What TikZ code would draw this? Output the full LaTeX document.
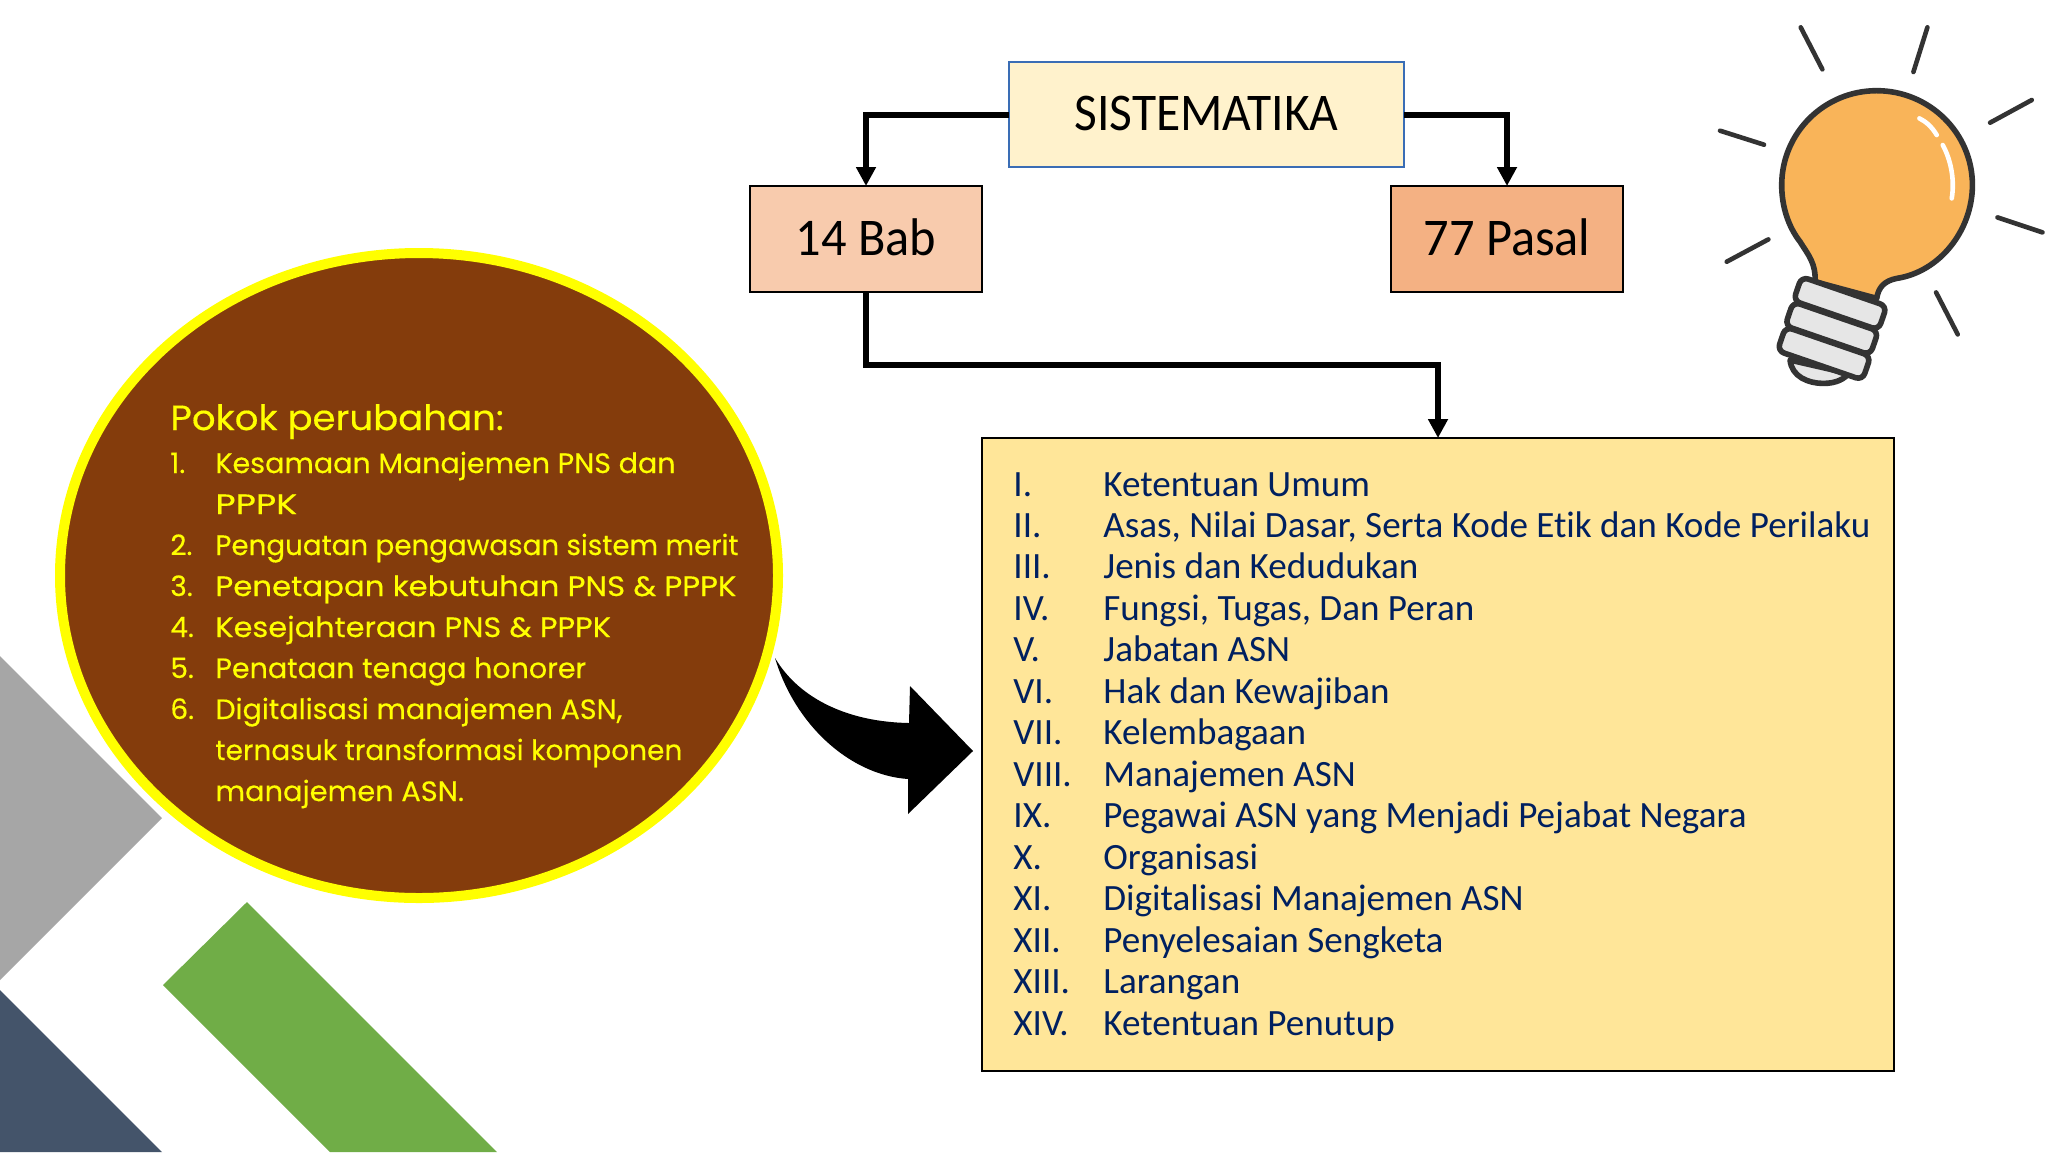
\documentclass[tikz,border=0pt]{standalone}
\usepackage{fontspec}
\usepackage{graphicx}
\usetikzlibrary{arrows.meta,shapes.geometric}
\setmainfont[Ligatures=NoCommon]{Carlito}
\newfontfamily\popfont[FakeBold=0.35]{Poppins}
\newfontfamily\labelfont[FakeStretch=0.95,Ligatures=NoCommon]{Carlito}
\newfontfamily\titlefont[FakeStretch=0.935,Ligatures=NoCommon]{Carlito}
\definecolor{navytext}{HTML}{002060}
\definecolor{brownfill}{HTML}{843C0C}
\definecolor{pureyellow}{HTML}{FFFF00}
\definecolor{bulbfill}{HTML}{F9B459}
\definecolor{bulbline}{HTML}{333333}
\definecolor{capfill}{HTML}{E6E6E6}
\tikzset{
  toplabel/.style={draw=black,line width=0.6pt,inner sep=0pt,outer sep=0pt,text=black,text height=16pt,text depth=0pt,font=\labelfont\fontsize{26.5}{30}\selectfont},
  conn/.style={draw=black,line width=3pt,-{Triangle[length=9.5pt,width=9.5pt]}},
  listnum/.style={anchor=base west,inner sep=0pt,text=navytext,font=\fontsize{18.55}{20}\selectfont},
  poktext/.style={anchor=base west,inner sep=0pt,text=pureyellow,font=\popfont\fontsize{14}{16}\selectfont},
  ray/.style={draw=bulbline,line width=2.3pt,line cap=round},
  bulbstroke/.style={draw=bulbline,line width=2.8pt,line join=round}
}
\begin{document}
\begin{tikzpicture}[x=0.5pt,y=-0.5pt]
\useasboundingbox (0,0) rectangle (2048,1152);
\fill[white] (0,0) rectangle (2048,1152);
% corner shapes
\fill[fill=black!35] (0,656) -- (162,818) -- (0,980) -- cycle;
\fill[fill={rgb,255:red,68;green,84;blue,106}] (0,990) -- (162,1152) -- (0,1152) -- cycle;
\fill[fill={rgb,255:red,112;green,173;blue,71}] (247,902) -- (497,1152) -- (330,1152) -- (163,985) -- cycle;
% ellipse
\node[ellipse,draw=pureyellow,fill=brownfill,line width=5pt,minimum width=359pt,minimum height=322.5pt,inner sep=0pt,outer sep=0pt] (pokok) at (419,575.5) {};
\node[poktext,font=\popfont\fontsize{17.5}{20}\selectfont] (ptitle) at (170,430) {\scalebox{1.06}[1]{Pokok perubahan:}};
\foreach \nm/\yy/\a/\sx/\b in {p1/473/1./1.02/Kesamaan Manajemen PNS dan,p1b/514//1.25/PPPK,p2/555/2./0.99/Penguatan pengawasan sistem merit,p3/596/3./1.10/Penetapan kebutuhan PNS \& PPPK,p4/637/4./1.085/Kesejahteraan PNS \& PPPK,p5/678/5./1.02/Penataan tenaga honorer,p6/719/6./1.02/{Digitalisasi manajemen ASN,},p6b/760//1.0/ternasuk transformasi komponen,p6c/801//1.03/manajemen ASN.}{
  \node[poktext] (\nm n) at (170,\yy) {\a};
  \node[poktext] (\nm) at (215,\yy) {\scalebox{\sx}[1]{\b}};
}
% curved arrow
\fill[black] (775,658) .. controls (800,700) and (850,722) .. (909,723) -- (910,686) -- (973,751) -- (908,814) -- (908,779) .. controls (850,775) and (795,725) .. (775,658) -- cycle;
% boxes
\node[toplabel,font=\titlefont\fontsize{26.5}{30}\selectfont,draw={rgb,255:red,58;green,109;blue,181},fill={rgb,255:red,255;green,242;blue,204},minimum width=197.5pt,minimum height=52.5pt] (sys) at (1206.5,114.5) {SISTEMATIKA};
\node[toplabel,fill={rgb,255:red,248;green,203;blue,173},minimum width=116pt,minimum height=53pt] (bab) at (866,239) {14 Bab};
\node[toplabel,fill={rgb,255:red,244;green,177;blue,131},minimum width=116pt,minimum height=53pt] (pasal) at (1507,239) {77 Pasal};
\node[draw=black,line width=0.6pt,fill={rgb,255:red,255;green,230;blue,153},minimum width=456pt,minimum height=316.5pt,inner sep=0pt,outer sep=0pt] (list) at (1438,754.5) {};
% connectors
\draw[conn] (sys.west) -| (bab.north);
\draw[conn] (sys.east) -| (pasal.north);
\coordinate (elbow) at (bab.south |- 0,365);
\draw[conn] (bab.south) -- (elbow) -| (list.north);
% list
\foreach \n/\a/\b in {1/I./Ketentuan Umum,2/II./{Asas, Nilai Dasar, Serta Kode Etik dan Kode Perilaku},3/III./Jenis dan Kedudukan,4/IV./{Fungsi, Tugas, Dan Peran},5/V./Jabatan ASN,6/VI./Hak dan Kewajiban,7/VII./Kelembagaan,8/VIII./Manajemen ASN,9/IX./Pegawai ASN yang Menjadi Pejabat Negara,10/X./Organisasi,11/XI./Digitalisasi Manajemen ASN,12/XII./Penyelesaian Sengketa,13/XIII./Larangan,14/XIV./Ketentuan Penutup}{
  \pgfmathsetmacro{\yy}{496+41.46*(\n-1)}
  \node[listnum] (num\n) at (1013,\yy) {\a};
  \node[listnum] (item\n) at (1103,\yy) {\b};
}
% light bulb
\begin{scope}[shift={(1680,0)},x=0.1667pt,y=-0.1667pt]
  \draw[ray] (362,82) -- (427,208);
  \draw[ray] (742,82) -- (700,216);
  \draw[ray] (1055,300) -- (930,368);
  \draw[ray] (120,392) -- (252,434);
  \draw[ray] (952,652) -- (1087,697);
  \draw[ray] (140,785) -- (265,718);
  \draw[ray] (768,877) -- (833,1003);
  \filldraw[bulbstroke,fill=capfill] (330,1080) .. controls (335,1130) and (385,1150) .. (430,1150) .. controls (470,1150) and (495,1135) .. (505,1120) -- cycle;
  \filldraw[bulbstroke,fill=bulbfill] (405,845) .. controls (408,790) and (385,765) .. (360,725) .. controls (325,680) and (305,620) .. (305,555) .. controls (305,398) and (433,272) .. (590,272) .. controls (747,272) and (877,398) .. (877,555) .. controls (877,690) and (780,815) .. (650,835) .. controls (615,842) and (595,860) .. (590,895) -- cycle;
  \foreach \cx/\cy in {480/910,455/985,432/1060}{
    \filldraw[bulbstroke,fill=capfill,rounded corners=3.5pt,shift={(\cx,\cy)},rotate=-19] (-135,-38) rectangle (135,38);
  }
  \draw[white,line width=2.3pt,line cap=round] (718,355) .. controls (738,365) and (755,380) .. (770,405);
  \draw[white,line width=2.3pt,line cap=round] (788,435) .. controls (810,475) and (825,535) .. (815,595);
\end{scope}
\end{tikzpicture}
\end{document}
